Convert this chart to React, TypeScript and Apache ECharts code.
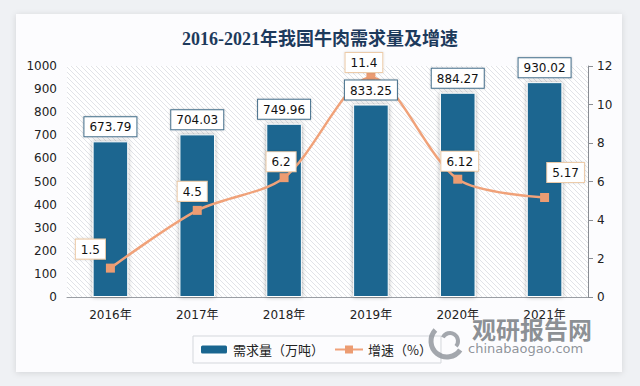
import React, { useEffect, useRef } from "react";
import * as echarts from "echarts";

const categories = ["2016年", "2017年", "2018年", "2019年", "2020年", "2021年"];
const demand = [673.79, 704.03, 749.96, 833.25, 884.27, 930.02];
const growth = [1.5, 4.5, 6.2, 11.4, 6.12, 5.17];
const leftTicks = { min: 0, max: 1000, interval: 100 };
const rightTicks = { min: 0, max: 12, interval: 2 };

const NUM_FONT = "'DejaVu Sans', 'Noto Sans CJK SC', sans-serif";
const CJK_FONT = "'Noto Sans CJK SC', 'DejaVu Sans', sans-serif";

function makeHatch(): string {
  const c = document.createElement("canvas");
  c.width = 5;
  c.height = 5;
  const ctx = c.getContext("2d");
  if (ctx) {
    ctx.fillStyle = "#ffffff";
    ctx.fillRect(0, 0, 5, 5);
    ctx.strokeStyle = "rgba(205,209,216,0.6)";
    ctx.lineWidth = 1;
    ctx.beginPath();
    ctx.moveTo(-1, -1);
    ctx.lineTo(6, 6);
    ctx.moveTo(-1, 4);
    ctx.lineTo(1, 6);
    ctx.moveTo(4, -1);
    ctx.lineTo(6, 1);
    ctx.stroke();
  }
  return c.toDataURL();
}

export default function App() {
  const ref = useRef<HTMLDivElement>(null);
  useEffect(() => {
    document.body.style.margin = "0";
    if (!ref.current) return;
    const chart = echarts.init(ref.current, null, { renderer: "svg" });
    const hatch = makeHatch();
    const lineOffsets = [
      [-20, 0],
      [-5, 0],
      [-3, 3],
      [-7, 4],
      [2, 1],
      [21, -6],
    ];
    chart.setOption({
      animation: false,
      backgroundColor: "#eff1f4",
      title: {
        text: "2016-2021年我国牛肉需求量及增速",
        left: "center",
        top: 25,
        textStyle: {
          fontFamily: "'Liberation Serif', 'Noto Sans CJK SC', serif",
          fontSize: 18,
          fontWeight: "bold",
          color: "#1d3a5c",
        },
      },
      graphic: [
        {
          type: "rect",
          z: -10,
          silent: true,
          shape: { x: 16, y: 14, width: 606, height: 358 },
          style: {
            fill: "#fcfcfe",
            shadowBlur: 6,
            shadowColor: "rgba(0,0,0,0.12)",
            shadowOffsetY: 1,
          },
        },
        {
          type: "arc",
          silent: true,
          z: 10,
          shape: { cx: 447, cy: 341, r: 16, startAngle: 0.6, endAngle: 3.9 },
          style: { stroke: "rgba(140,145,152,0.8)", lineWidth: 5, fill: "none" },
        },
        {
          type: "arc",
          silent: true,
          z: 10,
          shape: { cx: 450, cy: 341, r: 8, startAngle: 3.6, endAngle: 7.0 },
          style: { stroke: "rgba(140,145,152,0.8)", lineWidth: 4, fill: "none" },
        },
        {
          type: "text",
          silent: true,
          z: 10,
          left: 472,
          top: 316,
          style: {
            text: "观研报告网",
            fontFamily: CJK_FONT,
            fontSize: 24,
            fontWeight: "bold",
            fill: "rgba(120,124,130,0.85)",
          },
        },
        {
          type: "text",
          silent: true,
          z: 10,
          left: 468,
          top: 342,
          style: {
            text: "chinabaogao.com",
            fontFamily: NUM_FONT,
            fontSize: 13,
            fill: "rgba(130,135,142,0.9)",
          },
        },
      ],
      grid: {
        left: 67,
        right: 52,
        top: 66,
        bottom: 89,
        show: true,
        borderWidth: 0,
        backgroundColor: {
          image: hatch,
          repeat: "repeat",
          imageWidth: 5,
          imageHeight: 5,
        },
      },
      legend: {
        left: 193,
        top: 336,
        padding: [7, 9, 7, 6],
        borderColor: "#d4d7dc",
        borderWidth: 1,
        backgroundColor: "#fcfcfe",
        itemWidth: 28,
        itemHeight: 10,
        itemGap: 10,
        data: ["需求量（万吨）", "增速（%）"],
        textStyle: { fontFamily: CJK_FONT, fontSize: 13, color: "#222" },
      },
      xAxis: {
        type: "category",
        data: categories,
        axisLine: { lineStyle: { color: "#9a9ea4", width: 1 } },
        axisTick: { show: false },
        axisLabel: { fontFamily: NUM_FONT, fontSize: 12, color: "#222", margin: 12 },
      },
      yAxis: [
        {
          type: "value",
          ...leftTicks,
          axisLine: { show: false },
          axisTick: { show: false },
          splitLine: { show: false },
          axisLabel: {
            fontFamily: NUM_FONT,
            fontSize: 12,
            color: "#222",
            margin: 10,
            formatter: (v: number) => String(v),
          },
        },
        {
          type: "value",
          ...rightTicks,
          position: "right",
          axisLine: { show: true, lineStyle: { color: "#8a8e94" } },
          axisTick: { show: true, length: 5, lineStyle: { color: "#8a8e94" } },
          splitLine: { show: false },
          axisLabel: { fontFamily: NUM_FONT, fontSize: 12, color: "#222", margin: 9 },
        },
      ],
      series: [
        {
          name: "需求量（万吨）",
          type: "bar",
          data: demand,
          barWidth: "41%",
          z: 2,
          itemStyle: {
            color: "#1a6690",
            borderColor: "#ffffff",
            borderWidth: 1,
            shadowColor: "rgba(0,0,0,0.35)",
            shadowBlur: 4,
          },
        },
        {
          name: "增速（%）",
          type: "line",
          yAxisIndex: 1,
          data: growth.map((v, i) => ({
            value: v,
            label: { offset: lineOffsets[i] },
          })),
          z: 3,
          smooth: 0.3,
          symbol: "rect",
          symbolSize: 9,
          lineStyle: { color: "#f0a27a", width: 2.5 },
          itemStyle: { color: "#ec9c72" },
          label: {
            show: true,
            position: "top",
            distance: 5,
            fontFamily: NUM_FONT,
            fontSize: 12,
            color: "#111",
            backgroundColor: "#ffffff",
            borderColor: "#eccba9",
            borderWidth: 1,
            padding: [4, 5, 3, 5],
            shadowColor: "rgba(0,0,0,0.15)",
            shadowBlur: 2,
          },
        },
        {
          name: "labels",
          type: "bar",
          data: demand,
          barWidth: "41%",
          barGap: "-100%",
          z: 5,
          silent: true,
          itemStyle: { color: "rgba(0,0,0,0)" },
          label: {
            show: true,
            position: "top",
            distance: 5,
            fontFamily: NUM_FONT,
            fontSize: 12,
            color: "#111",
            backgroundColor: "#ffffff",
            borderColor: "#46708c",
            borderWidth: 1,
            padding: [4, 5, 3, 5],
            shadowColor: "rgba(0,0,0,0.2)",
            shadowBlur: 2,
          },
        },
      ],
    });
    return () => chart.dispose();
  }, []);
  return <div ref={ref} style={{ width: 640, height: 386 }} />;
}
